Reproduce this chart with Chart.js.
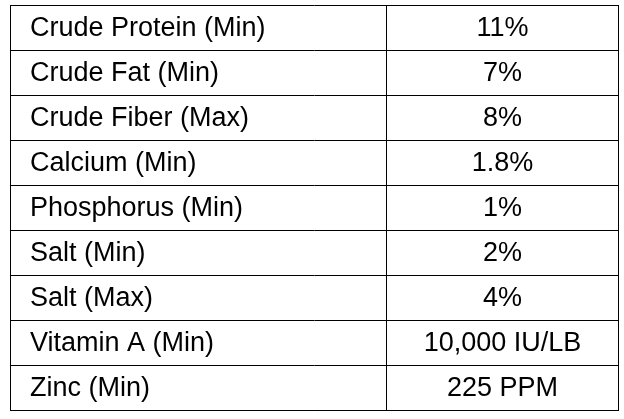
<!DOCTYPE html>
<html><head><meta charset="utf-8">
<script src="https://cdn.jsdelivr.net/npm/chart.js@4"></script>
<style>html,body{margin:0;padding:0;background:#fff}#w{width:624px;height:419px}</style>
</head><body><div id="w"><canvas id="c" width="624" height="419"></canvas></div>
<script>
const nutrients = ["Crude Protein (Min)","Crude Fat (Min)","Crude Fiber (Max)","Calcium (Min)","Phosphorus (Min)","Salt (Min)","Salt (Max)","Vitamin A (Min)","Zinc (Min)"];
const amounts = ["11%","7%","8%","1.8%","1%","2%","4%","10,000 IU/LB","225 PPM"];
const FONT = '27px "Liberation Sans", Arial, sans-serif';
const textPlugin = {
  id:'tableText',
  afterDatasetsDraw(chart){
    const {ctx, scales:{x,y}} = chart;
    ctx.save(); ctx.fillStyle='#000'; ctx.font=FONT; ctx.textBaseline='middle';
    const x0=x.getPixelForValue(0), x1=x.getPixelForValue(0.62), x2=x.getPixelForValue(1);
    nutrients.forEach((n,i)=>{
      const py=y.getPixelForValue(i)+1;
      ctx.textAlign='left'; ctx.fillText(n, x0+20, py);
      ctx.textAlign='center'; ctx.fillText(amounts[i], (x1+x2)/2, py);
    });
    ctx.restore();
  }
};
new Chart(document.getElementById('c'),{
  type:'scatter',
  data:{labels:nutrients,datasets:[{data:nutrients.map((n,i)=>({x:0.5,y:n})),pointRadius:0}]},
  options:{
    responsive:false, animation:false, devicePixelRatio:1,
    layout:{padding:{left:10,top:5,right:6,bottom:9}},
    plugins:{legend:{display:false},tooltip:{enabled:false}},
    scales:{
      x:{type:'linear',min:0,max:1,
        afterBuildTicks(s){s.ticks=[{value:0},{value:0.62},{value:1}];},
        ticks:{display:false},grid:{color:'#000',lineWidth:1,drawTicks:false},border:{color:'#000'}},
      y:{type:'category',labels:nutrients,offset:true,
        ticks:{display:false},grid:{offset:true,color:'#000',lineWidth:1,drawTicks:false},border:{color:'#000'}}
    }
  },
  plugins:[textPlugin]
});
</script></body></html>
